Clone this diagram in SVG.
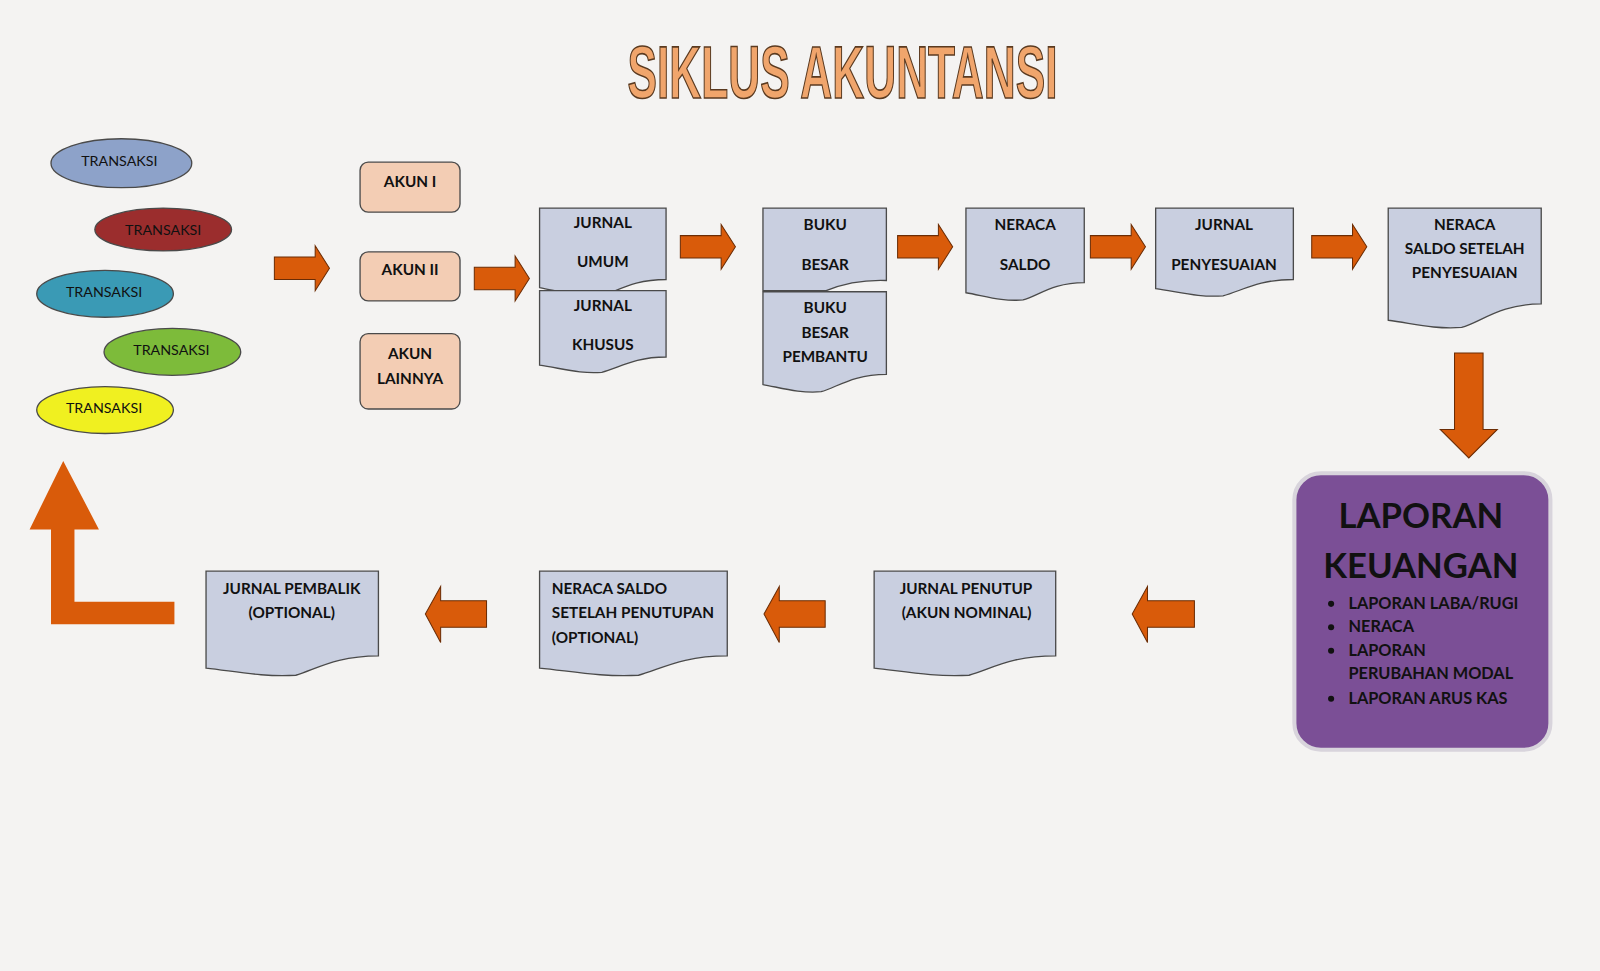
<svg xmlns="http://www.w3.org/2000/svg" width="1600" height="971" viewBox="0 0 1600 971">
<style>
text{font-family:Lato,"Open Sans","Liberation Sans",sans-serif;font-weight:700;fill:#111}
.t{font-size:15px;text-anchor:middle}
.e{font-size:14px;font-weight:400;text-anchor:middle}
.doc{fill:#c9cfe0;stroke:#4a4a4a;stroke-width:1.3}
.ak{fill:#f3cdb4;stroke:#4a4a4a;stroke-width:1.3}
.ar{fill:#d95b0a;stroke:#6b2c05;stroke-width:1}
.el{stroke:#4a4a4a;stroke-width:1.3}
</style>
<rect width="1600" height="971" fill="#f4f3f2"/>
<g transform="scale(1.02)">
<g id="title"><text x="826" y="96" text-anchor="middle" transform="translate(826 0) scale(0.62 1) translate(-826 0)" style="font-family:'Liberation Sans',sans-serif;font-size:72px;font-weight:700;fill:#f0a56c;stroke:#5a3a20;stroke-width:1.6" textLength="680" lengthAdjust="spacingAndGlyphs">SIKLUS AKUNTANSI</text></g>
<g id="t1"><ellipse class="el" cx="119" cy="160" rx="69" ry="24" fill="#8da2c9"/><text class="e" x="117" y="163">TRANSAKSI</text></g>
<g id="t2"><ellipse class="el" cx="160" cy="225" rx="67" ry="21" fill="#9b2d2d"/><text class="e" x="160" y="230">TRANSAKSI</text></g>
<g id="t3"><ellipse class="el" cx="103" cy="288" rx="67" ry="23" fill="#3a9ab5"/><text class="e" x="102" y="291">TRANSAKSI</text></g>
<g id="t4"><ellipse class="el" cx="169" cy="345" rx="67" ry="23" fill="#7dbb3a"/><text class="e" x="168" y="348">TRANSAKSI</text></g>
<g id="t5"><ellipse class="el" cx="103" cy="402" rx="67" ry="23" fill="#f0f020"/><text class="e" x="102" y="405">TRANSAKSI</text></g>
<g id="akun1"><rect class="ak" x="353" y="159" width="98" height="49" rx="8"/><text class="t" x="402" y="183">AKUN I</text></g>
<g id="akun2"><rect class="ak" x="353" y="247" width="98" height="48" rx="8"/><text class="t" x="402" y="270">AKUN II</text></g>
<g id="akun3"><rect class="ak" x="353" y="327" width="98" height="74" rx="8"/><text class="t" x="402" y="352">AKUN</text><text class="t" x="402" y="376">LAINNYA</text></g>
<g id="ju"><path class="doc" d="M529 204H653V274C620 274 605 286 590 290C570 292 550 286 529 282Z"/><text class="t" x="591" y="224">JURNAL</text><text class="t" x="591" y="262">UMUM</text></g>
<g id="jk"><path class="doc" d="M529 285H653V350C620 350 605 362 590 365C570 367 550 361 529 358Z"/><text class="t" x="591" y="305">JURNAL</text><text class="t" x="591" y="343">KHUSUS</text></g>
<g id="bb"><path class="doc" d="M748 204H869V275C840 274 822 280 810 285H748Z"/><text class="t" x="809" y="225">BUKU</text><text class="t" x="809" y="265">BESAR</text></g>
<g id="bbp"><path class="doc" d="M748 286H869V367C836 367 820 380 805 384C785 386 765 380 748 377Z"/><text class="t" x="809" y="307">BUKU</text><text class="t" x="809" y="331">BESAR</text><text class="t" x="809" y="355">PEMBANTU</text></g>
<g id="ns"><path class="doc" d="M947 204H1063V277C1032 277 1018 290 1003 294C983 296 965 290 947 287Z"/><text class="t" x="1005" y="225">NERACA</text><text class="t" x="1005" y="265">SALDO</text></g>
<g id="jp"><path class="doc" d="M1133 204H1268V274C1232 274 1216 286 1199 290C1176 292 1155 286 1133 283Z"/><text class="t" x="1200" y="225">JURNAL</text><text class="t" x="1200" y="265">PENYESUAIAN</text></g>
<g id="nssp"><path class="doc" d="M1361 204H1511V298C1470 298 1452 316 1433 321C1405 323 1385 317 1361 314Z"/><text class="t" x="1436" y="225">NERACA</text><text class="t" x="1436" y="249">SALDO SETELAH</text><text class="t" x="1436" y="273">PENYESUAIAN</text></g>
<g id="lk"><rect x="1269" y="464" width="251" height="271" rx="26" fill="#7b4f96" stroke="#d8d4dc" stroke-width="4"/>
<text x="1393" y="518" text-anchor="middle" style="font-size:34px">LAPORAN</text><text x="1393" y="567" text-anchor="middle" style="font-size:34px">KEUANGAN</text>
<g style="font-size:16px"><circle cx="1305" cy="592" r="3" fill="#111"/><text x="1322" y="597">LAPORAN LABA/RUGI</text>
<circle cx="1305" cy="615" r="3" fill="#111"/><text x="1322" y="620">NERACA</text>
<circle cx="1305" cy="638" r="3" fill="#111"/><text x="1322" y="643">LAPORAN</text><text x="1322" y="666">PERUBAHAN MODAL</text>
<circle cx="1305" cy="685" r="3" fill="#111"/><text x="1322" y="690">LAPORAN ARUS KAS</text></g></g>
<g id="jpt"><path class="doc" d="M857 560H1035V643C990 643 972 656 950 662C915 664 885 658 857 655Z"/><text x="882" y="582" style="font-size:15px">JURNAL PENUTUP</text><text x="884" y="606" style="font-size:15px">(AKUN NOMINAL)</text></g>
<g id="nsp"><path class="doc" d="M529 560H713V643C668 643 648 656 626 662C590 664 560 658 529 655Z"/><text x="541" y="582" style="font-size:15px">NERACA SALDO</text><text x="541" y="606" style="font-size:15px">SETELAH PENUTUPAN</text><text x="541" y="630" style="font-size:15px">(OPTIONAL)</text></g>
<g id="jpb"><path class="doc" d="M202 560H371V643C330 643 310 656 290 662C258 664 230 658 202 655Z"/><text class="t" x="286" y="582">JURNAL PEMBALIK</text><text class="t" x="286" y="606">(OPTIONAL)</text></g>
<g id="connectors">
<path class="ar" d="M269 252H309V241L323 263L309 285V274H269Z"/>
<path class="ar" d="M465 262H505V251L519 273L505 295V284H465Z"/>
<path class="ar" d="M667 231H707V220L721 242L707 264V253H667Z"/>
<path class="ar" d="M880 231H920V220L934 242L920 264V253H880Z"/>
<path class="ar" d="M1069 231H1109V220L1123 242L1109 264V253H1069Z"/>
<path class="ar" d="M1286 231H1326V220L1340 242L1326 264V253H1286Z"/>
<path class="ar" d="M1426 346H1454V421H1468L1440 449L1412 421H1426Z"/>
<path class="ar" d="M1171 589H1125V575L1110 602L1125 630V615H1171Z"/>
<path class="ar" d="M809 589H764V575L749 602L764 630V615H809Z"/>
<path class="ar" d="M477 589H432V575L417 602L432 630V615H477Z"/>
<path fill="#d95b0a" d="M50 612V519H29L62 452L97 519H73V590H171V612Z"/>
</g>
</g>
</svg>
